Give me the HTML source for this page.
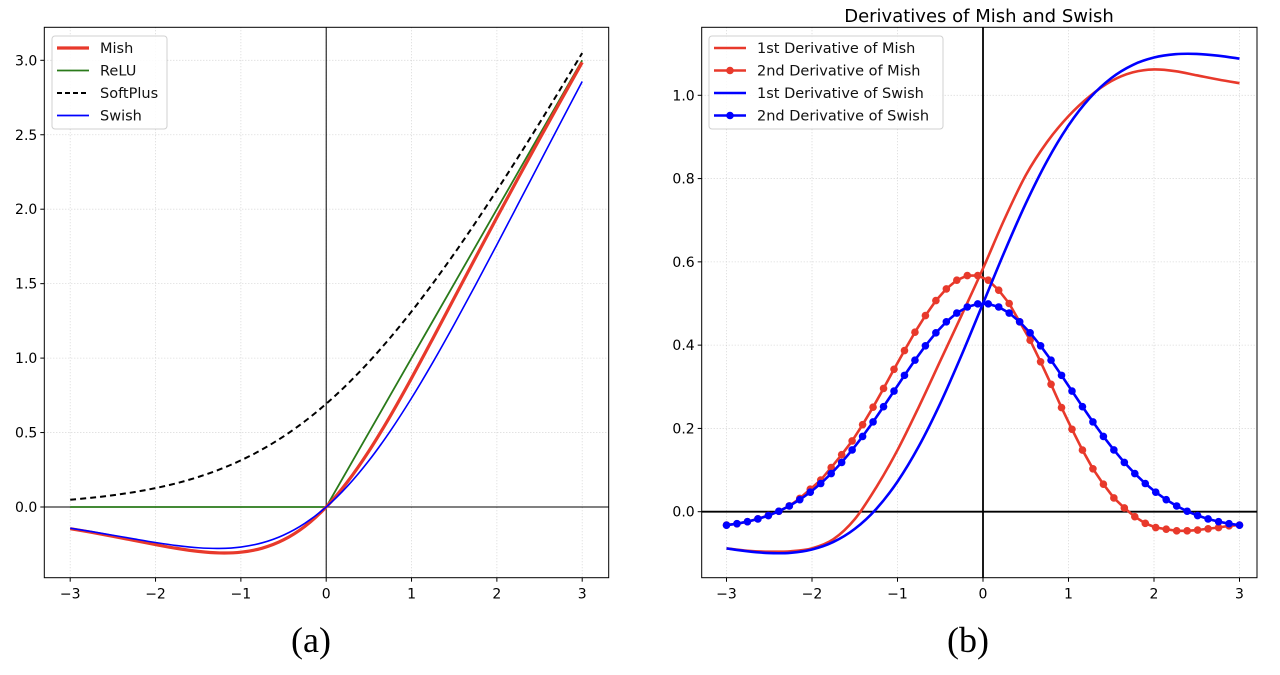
<!DOCTYPE html>
<html><head><meta charset="utf-8"><style>
body{margin:0;background:#fff;width:1280px;height:670px;overflow:hidden}
svg{font-family:"DejaVu Sans","Liberation Sans",sans-serif}
</style></head><body>
<svg id="c" width="1280" height="670"></svg>
<script>
const xsA=[-3,-2.75,-2.5,-2.25,-2,-1.75,-1.5,-1.25,-1,-0.75,-0.5,-0.25,0,0.25,0.5,0.75,1,1.25,1.5,1.75,2,2.25,2.5,2.75,3];
const mishVals=[-0.1457,-0.1701,-0.1968,-0.2247,-0.2525,-0.2780,-0.2981,-0.3084,-0.3034,-0.2765,-0.2207,-0.1299,0,0.1696,0.3752,0.6100,0.8651,1.1319,1.4034,1.6749,1.9440,2.2095,2.4714,2.7302,2.9865];
const reluVals=[0,0,0,0,0,0,0,0,0,0,0,0,0,0.25,0.5,0.75,1,1.25,1.5,1.75,2,2.25,2.5,2.75,3];
const softplusVals=[0.0486,0.0620,0.0789,0.1002,0.1269,0.1602,0.2014,0.2519,0.3133,0.3868,0.4741,0.5759,0.6931,0.8259,0.9741,1.1368,1.3133,1.5019,1.7014,1.9102,2.1269,2.3502,2.5789,2.8120,3.0486];
const swishVals=[-0.1423,-0.1652,-0.1897,-0.2145,-0.2384,-0.2591,-0.2736,-0.2784,-0.2689,-0.2406,-0.1888,-0.1095,0,0.1405,0.3112,0.5094,0.7311,0.9716,1.2264,1.4909,1.7616,2.0355,2.3104,2.5848,2.8577];
const mishD1=[-0.088,-0.094,-0.096,-0.095,-0.088,-0.066,-0.018,0.058,0.148,0.252,0.362,0.472,0.584,0.702,0.808,0.888,0.950,0.998,1.034,1.055,1.062,1.058,1.048,1.038,1.029];
const swishD1=[-0.0881,-0.0952,-0.0994,-0.0987,-0.0908,-0.0727,-0.0413,0.0063,0.0723,0.1574,0.2600,0.3763,0.5,0.6237,0.7400,0.8426,0.9277,0.9937,1.0413,1.0727,1.0908,1.0987,1.0994,1.0952,1.0881];
const mishD2=[-0.032,-0.029,-0.024,-0.017,-0.009,0.001,0.014,0.032,0.054,0.076,0.106,0.137,0.170,0.209,0.251,0.296,0.342,0.387,0.431,0.471,0.507,0.535,0.556,0.567,0.567,0.556,0.532,0.500,0.456,0.412,0.360,0.306,0.250,0.198,0.148,0.103,0.066,0.033,0.009,-0.012,-0.028,-0.038,-0.042,-0.046,-0.046,-0.044,-0.041,-0.038,-0.034,-0.032];
const swishD2Half=[-0.0323,-0.0288,-0.0239,-0.0175,-0.0092,0.0011,0.0137,0.0289,0.0468,0.0677,0.0915,0.1184,0.1483,0.1808,0.2157,0.2523,0.2898,0.3274,0.3640,0.3984,0.4295,0.4561,0.4771,0.4916,0.4991];
const swishD2=swishD2Half.concat(swishD2Half.slice().reverse());
const xsB=[];for(let i=0;i<50;i++)xsB.push(-3+i*6/49);
const ticksX=[-3,-2,-1,0,1,2,3];
const ticksYA=[0,0.5,1,1.5,2,2.5,3];
const ticksYB=[0,0.2,0.4,0.6,0.8,1.0];

const NS="http://www.w3.org/2000/svg";
const svg=document.getElementById('c');
function el(t,a,p){const e=document.createElementNS(NS,t);for(const k in a)e.setAttribute(k,a[k]);(p||svg).appendChild(e);return e;}
function mk(x0,x1,px0,px1){return v=>px0+(v-x0)/(x1-x0)*(px1-px0);}

function axes(box,X,Y,yt,zw,name){
  const g=el('g',{});
  
  
  ticksX.forEach(v=>{const l=el('line',{x1:X(v),x2:X(v),y1:box.t,y2:box.b,stroke:'#cfcfcf','stroke-width':0.8,'stroke-dasharray':'1,2'},g);
    el('line',{x1:X(v),x2:X(v),y1:box.b,y2:box.b+4,stroke:'#000'},g);
    const t=el('text',{x:X(v),y:box.b+21,'text-anchor':'middle','font-size':14},g);t.textContent=(v<0?'\u2212'+(-v):v);});
  yt.forEach(v=>{const l=el('line',{x1:box.l,x2:box.r,y1:Y(v),y2:Y(v),stroke:'#cfcfcf','stroke-width':0.8,'stroke-dasharray':'1,2'},g);
    el('line',{x1:box.l-4,x2:box.l,y1:Y(v),y2:Y(v),stroke:'#000'},g);
    const t=el('text',{x:box.l-7,y:Y(v)+5,'text-anchor':'end','font-size':14},g);t.textContent=v.toFixed(1);});
  el('line',{x1:X(0),x2:X(0),y1:box.t,y2:box.b,stroke:'#000','stroke-width':zw},g);
  el('line',{x1:box.l,x2:box.r,y1:Y(0),y2:Y(0),stroke:'#000','stroke-width':zw},g);
  return {X,Y,g};
}
function line(ax,xs,ys,col,w,dash,name,smooth){
  const P=xs.map((x,i)=>[ax.X(x),ax.Y(ys[i])]);
  let d='M'+P[0][0].toFixed(2)+','+P[0][1].toFixed(2);
  for(let i=0;i<P.length-1;i++){
    if(!smooth){d+='L'+P[i+1][0].toFixed(2)+','+P[i+1][1].toFixed(2);continue;}
    const p0=P[Math.max(0,i-1)],p1=P[i],p2=P[i+1],p3=P[Math.min(P.length-1,i+2)];
    const c1=[p1[0]+(p2[0]-p0[0])/6,p1[1]+(p2[1]-p0[1])/6],c2=[p2[0]-(p3[0]-p1[0])/6,p2[1]-(p3[1]-p1[1])/6];
    d+='C'+c1.map(v=>v.toFixed(2))+' '+c2.map(v=>v.toFixed(2))+' '+p2.map(v=>v.toFixed(2));
  }
  const p=el('path',{d,fill:'none',stroke:col,'stroke-width':w,'stroke-linejoin':'round','stroke-dasharray':dash||'none'});
  
  
  return p;
}
function dots(ax,xs,ys,col,name){
  xs.forEach((x,i)=>{const c=el('circle',{cx:ax.X(x),cy:ax.Y(ys[i]),r:3.8,fill:col});
    
    });
}
function frame(box,name){const r=el('rect',{x:box.l,y:box.t,width:box.r-box.l,height:box.b-box.t,fill:'none',stroke:'#000','stroke-width':1});}
function legend(x,y,w,h,items,name){
  const g=el('g',{});
  
  
  el('rect',{x,y,width:w,height:h,rx:3,fill:'#fff','fill-opacity':0.85,stroke:'#d0d0d0'},g);
  items.forEach((it,i)=>{const cy=y+12+i*22.5;
    el('line',{x1:x+5,x2:x+37,y1:cy,y2:cy,stroke:it.c,'stroke-width':it.w,'stroke-dasharray':it.d||'none'},g);
    if(it.m)el('circle',{cx:x+21,cy,r:3.8,fill:it.c},g);
    const t=el('text',{x:x+48,y:cy+5,'font-size':14.5,fill:'#111'},g);t.textContent=it.t;
    
    });
}
const RED='#e8392b',BLUE='#0000ff',GREEN='#2a7a1a';
// Left
const boxA={l:44.3,r:608.7,t:27.3,b:577.7};
const A=axes(boxA,mk(-3,3,70.2,582.2),mk(0,3,507,60.3),ticksYA,1,'left-axes');
line(A,xsA,softplusVals,'#000',2,'6,4','softplus-line',true);
line(A,xsA,reluVals,GREEN,1.8,null,'relu-line',false);
line(A,xsA,mishVals,RED,3.2,null,'mish-line',true);
line(A,xsA,swishVals,BLUE,1.6,null,'swish-line',true);
frame(boxA,'left-frame');
legend(52,36,115,93,[{t:'Mish',c:RED,w:3.2},{t:'ReLU',c:GREEN,w:1.8},{t:'SoftPlus',c:'#000',w:2,d:'5,3'},{t:'Swish',c:BLUE,w:1.8}],'left-legend');
// Right
const boxB={l:701.7,r:1257,t:27.3,b:577.7};
const B=axes(boxB,mk(-3,3,726.5,1239.5),mk(0,1,511.7,95.3),ticksYB,1.8,'right-axes');
line(B,xsA,mishD1,RED,2.6,null,'mish-1st-derivative',true);
line(B,xsB,mishD2,RED,2.6,null,'mish-2nd-derivative',false);
dots(B,xsB,mishD2,RED,'mish-2nd-marker');
line(B,xsA,swishD1,BLUE,2.6,null,'swish-1st-derivative',true);
line(B,xsB,swishD2,BLUE,2.6,null,'swish-2nd-derivative',false);
dots(B,xsB,swishD2,BLUE,'swish-2nd-marker');
frame(boxB,'right-frame');
legend(709,36,234,93,[{t:'1st Derivative of Mish',c:RED,w:2.6},{t:'2nd Derivative of Mish',c:RED,w:2.6,m:1},{t:'1st Derivative of Swish',c:BLUE,w:2.6},{t:'2nd Derivative of Swish',c:BLUE,w:2.6,m:1}],'right-legend');
let t=el('text',{x:979,y:22,'text-anchor':'middle','font-size':18});t.textContent='Derivatives of Mish and Swish';


t=el('text',{x:311,y:652,'text-anchor':'middle','font-size':36,'font-family':'Liberation Serif,serif'});t.textContent='(a)';


t=el('text',{x:968,y:652,'text-anchor':'middle','font-size':36,'font-family':'Liberation Serif,serif'});t.textContent='(b)';


</script>
</body></html>
